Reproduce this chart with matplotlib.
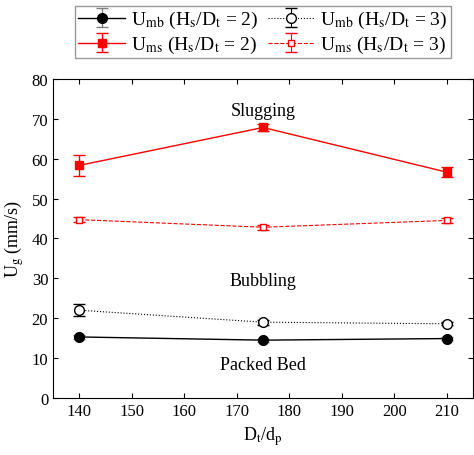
import matplotlib
matplotlib.use("Agg")
import matplotlib.pyplot as plt

plt.rcParams["font.family"] = "Liberation Serif"
plt.rcParams["mathtext.fontset"] = "stix"

ratio = [140, 175, 210]
umb_2 = [15.3, 14.5, 14.9]
umb_2_err = [0.4, 0.4, 0.4]
umb_3 = [22.0, 19.0, 18.6]
umb_3_err = [1.5, 0.6, 0.4]
ums_2 = [58.3, 67.8, 56.6]
ums_2_err = [2.7, 0.8, 1.3]
ums_3 = [44.7, 42.8, 44.5]
ums_3_err = [0.7, 0.6, 0.6]

fig = plt.figure(figsize=(4.74, 4.56), dpi=100)
ax = fig.add_axes([0.112, 0.125, 0.886, 0.70])

h1 = ax.errorbar(ratio, umb_2, yerr=umb_2_err, color="black", ecolor="gray", marker="o",
                 ms=7, lw=1, capsize=4, label=r"U$_{\rm mb}$ (H$_{\rm s}$/D$_{\rm t}$ = 2)")
h2 = ax.errorbar(ratio, umb_3, yerr=umb_3_err, color="black", ecolor="black", marker="o",
                 mfc="white", ms=7, lw=0.8, ls=":", capsize=4,
                 label=r"U$_{\rm mb}$ (H$_{\rm s}$/D$_{\rm t}$ = 3)")
h3 = ax.errorbar(ratio, ums_2, yerr=ums_2_err, color="red", marker="s", ms=6, lw=1,
                 capsize=4, label=r"U$_{\rm ms}$ (H$_{\rm s}$/D$_{\rm t}$ = 2)")
h4 = ax.errorbar(ratio, ums_3, yerr=ums_3_err, color="red", marker="s", mfc="white", ms=5,
                 lw=0.8, ls="--", capsize=4,
                 label=r"U$_{\rm ms}$ (H$_{\rm s}$/D$_{\rm t}$ = 3)")

ax.text(175, 72, "Slugging", ha="center", va="center", fontsize=13)
ax.text(175, 29.5, "Bubbling", ha="center", va="center", fontsize=13)
ax.text(175, 8.3, "Packed Bed", ha="center", va="center", fontsize=13)

ax.set_xlim(135, 215)
ax.set_ylim(0, 80)
ax.set_xticks(range(140, 211, 10))
ax.set_yticks(range(0, 81, 10))
ax.tick_params(direction="in", labelsize=12, top=True, right=True)
ax.set_xlabel(r"D$_{\rm t}$/d$_{\rm p}$", fontsize=13)
ax.set_ylabel(r"U$_{\rm g}$ (mm/s)", fontsize=13)

handles = [h1, h3, h2, h4]
fig.legend(handles, [h.get_label() for h in handles], loc="upper center",
           bbox_to_anchor=(0.555, 1.005), ncol=2, fontsize=14,
           fancybox=False, edgecolor="gray", handlelength=2.4, columnspacing=0.5,
           handletextpad=0.3, borderpad=0.15, labelspacing=0.2)

fig.savefig("out.png")
